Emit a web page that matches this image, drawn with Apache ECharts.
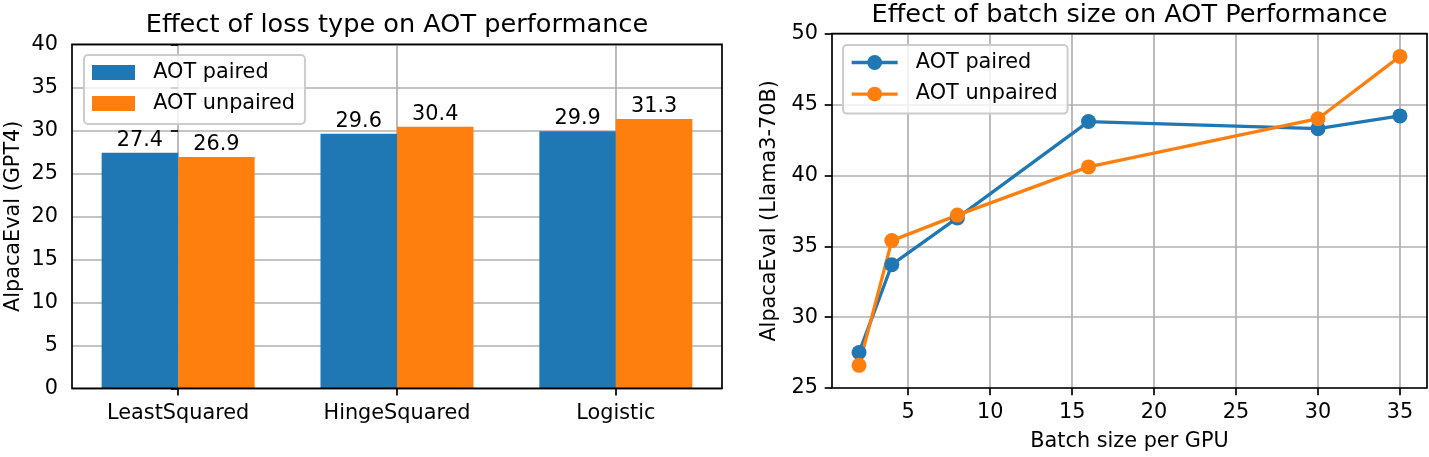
<!DOCTYPE html>
<html><head><meta charset="utf-8">
<script src="https://cdn.jsdelivr.net/npm/echarts@6/dist/echarts.min.js"></script>
<style>html,body{margin:0;padding:0;background:#fff}#c{width:1429px;height:457px}</style>
</head><body><div id="c"></div>
<script>
// ---- data ----
const categories = ['LeastSquared', 'HingeSquared', 'Logistic'];
const pairedLoss = [27.4, 29.6, 29.9];
const unpairedLoss = [26.9, 30.4, 31.3];
const batchSizes = [2, 4, 8, 16, 30, 35];
const pairedBatch = [27.5, 33.7, 37.0, 43.8, 43.3, 44.2];
const unpairedBatch = [26.6, 35.4, 37.2, 40.6, 44.0, 48.4];
const batchTicks = [5, 10, 15, 20, 25, 30, 35];
const seriesNames = ['AOT paired', 'AOT unpaired'];

const FONT = 'DejaVu Sans';
const FS = 20.8;
const BLUE = '#1f77b4', ORANGE = '#ff7f0e';
const catPositions = categories.map((c, i) => i);

const tickStyle = {show: true, length: 7.3, lineStyle: {color: '#000', width: 1.7}};
const gridLine = {show: true, lineStyle: {color: '#b0b0b0', width: 1.7}};
const labelStyle = {fontSize: FS, color: '#000', fontFamily: FONT};

const chart = echarts.init(document.getElementById('c'));
const option = {
  animation: false,
  textStyle: {fontFamily: FONT},
  title: [
    {text: 'Effect of loss type on AOT performance', left: 397, top: 12, padding: 0, textAlign: 'center',
     textStyle: {fontSize: 25.6, fontWeight: 'normal', color: '#000', fontFamily: FONT}},
    {text: 'Effect of batch size on AOT Performance', left: 1129.5, top: 2, padding: 0, textAlign: 'center',
     textStyle: {fontSize: 25.6, fontWeight: 'normal', color: '#000', fontFamily: FONT}}
  ],
  legend: [
    {orient: 'vertical', left: 84, top: 55, padding: [7, 10, 10, 8], itemGap: 10,
     itemWidth: 43, itemHeight: 15, icon: 'rect',
     data: seriesNames.map(n => 'loss:' + n),
     formatter: n => '  ' + n.replace('loss:', ''),
     backgroundColor: 'rgba(255,255,255,0.8)', borderColor: '#cccccc', borderWidth: 2, borderRadius: 4,
     textStyle: {fontSize: FS, color: '#000', fontFamily: FONT, lineHeight: 21}},
    {orient: 'vertical', left: 843, top: 45, padding: [7, 10, 9, 7], itemGap: 10.6,
     itemWidth: 46, itemHeight: 18.5,
     lineStyle: {width: 3.3},
     data: seriesNames.map(n => 'batch:' + n),
     formatter: n => '  ' + n.replace('batch:', ''),
     backgroundColor: 'rgba(255,255,255,0.8)', borderColor: '#cccccc', borderWidth: 2, borderRadius: 4,
     textStyle: {fontSize: FS, color: '#000', fontFamily: FONT, lineHeight: 21}}
  ],
  grid: [
    {left: 72, top: 44.3, width: 650, height: 344, show: true, borderColor: '#000', borderWidth: 1.7, z: 10, backgroundColor: 'transparent'},
    {left: 832, top: 33.7, width: 595, height: 355, show: true, borderColor: '#000', borderWidth: 1.7, z: 10, backgroundColor: 'transparent'}
  ],
  xAxis: [
    {type: 'value', gridIndex: 0, min: -0.485, max: 2.485,
     axisLine: {show: false},
     axisTick: Object.assign({customValues: catPositions}, tickStyle),
     axisLabel: Object.assign({customValues: catPositions, margin: 14.6, formatter: v => categories[Math.round(v)]}, labelStyle),
     splitLine: gridLine},
    {type: 'value', gridIndex: 1, min: 0.35, max: 36.65,
     axisLine: {show: false},
     axisTick: Object.assign({customValues: batchTicks}, tickStyle),
     axisLabel: Object.assign({customValues: batchTicks, margin: 14.6}, labelStyle),
     splitLine: gridLine,
     name: 'Batch size per GPU', nameLocation: 'middle', nameGap: 43, nameTextStyle: labelStyle}
  ],
  yAxis: [
    {type: 'value', gridIndex: 0, min: 0, max: 40, interval: 5,
     axisLine: {show: false}, axisTick: tickStyle,
     axisLabel: Object.assign({margin: 14}, labelStyle),
     splitLine: gridLine,
     name: 'AlpacaEval (GPT4)', nameLocation: 'middle', nameGap: 48, nameTextStyle: labelStyle},
    {type: 'value', gridIndex: 1, min: 25, max: 50, interval: 5,
     axisLine: {show: false}, axisTick: tickStyle,
     axisLabel: Object.assign({margin: 14}, labelStyle),
     splitLine: gridLine,
     name: 'AlpacaEval (Llama3-70B)', nameLocation: 'middle', nameGap: 52, nameTextStyle: labelStyle}
  ],
  series: [
    {name: 'loss:' + seriesNames[0], type: 'bar', xAxisIndex: 0, yAxisIndex: 0,
     data: pairedLoss.map((v, i) => [catPositions[i], v]),
     barWidth: 76.5, barGap: '0%', itemStyle: {color: BLUE},
     label: {show: true, position: 'top', distance: 2, fontSize: FS, color: '#000', fontFamily: FONT,
             formatter: p => p.value[1].toFixed(1)}},
    {name: 'loss:' + seriesNames[1], type: 'bar', xAxisIndex: 0, yAxisIndex: 0,
     data: unpairedLoss.map((v, i) => [catPositions[i], v]),
     barWidth: 76.5, barGap: '0%', itemStyle: {color: ORANGE},
     label: {show: true, position: 'top', distance: 2, fontSize: FS, color: '#000', fontFamily: FONT,
             formatter: p => p.value[1].toFixed(1)}},
    {name: 'batch:' + seriesNames[0], type: 'line', xAxisIndex: 1, yAxisIndex: 1,
     data: batchSizes.map((x, i) => [x, pairedBatch[i]]),
     symbol: 'circle', symbolSize: 15, lineStyle: {color: BLUE, width: 3.3}, itemStyle: {color: BLUE}},
    {name: 'batch:' + seriesNames[1], type: 'line', xAxisIndex: 1, yAxisIndex: 1,
     data: batchSizes.map((x, i) => [x, unpairedBatch[i]]),
     symbol: 'circle', symbolSize: 15, lineStyle: {color: ORANGE, width: 3.3}, itemStyle: {color: ORANGE}}
  ]
};
chart.setOption(option);
</script>
</body></html>
